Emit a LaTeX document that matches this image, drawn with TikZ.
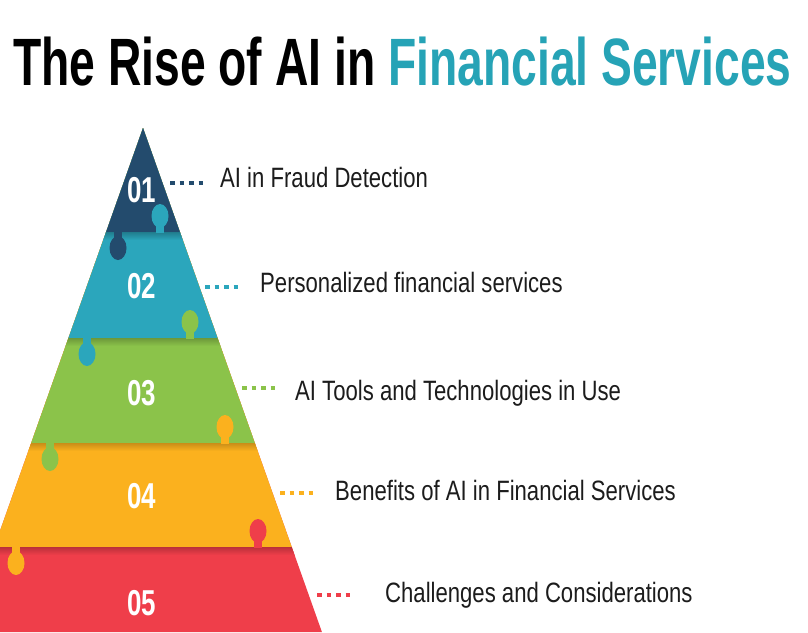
\documentclass[tikz,border=0pt]{standalone}
\usepackage{fontspec}
\setmainfont{Liberation Sans}
\newfontfamily\titlefont{Liberation Sans}[FakeStretch=0.69]
\newfontfamily\numfont{Liberation Sans}[FakeStretch=0.72]
\newfontfamily\labfont{Liberation Sans}[FakeStretch=0.79]
\definecolor{cnavy}{HTML}{234B6D}
\definecolor{cteal}{HTML}{2BA6BC}
\definecolor{cgreen}{HTML}{8BC34A}
\definecolor{corange}{HTML}{FBB11E}
\definecolor{cred}{HTML}{EF3E4A}
\definecolor{ctitle}{HTML}{26A3B6}
\definecolor{labgray}{HTML}{1C1C1C}
\newcommand\pzknob[4]{%
  \fill[#4] (#1-4,#2-#3*1) rectangle (#1+4,#2+#3*8);
  \fill[#4] (#1,#2+#3*16) ellipse[x radius=8.5, y radius=12];}
\begin{document}
\begin{tikzpicture}[x=1pt,y=-1pt,
  numtxt/.style={text=white, inner sep=0pt, anchor=base,
    font=\numfont\bfseries\fontsize{36}{36}\selectfont},
  labtxt/.style={text=labgray, inner sep=0pt, anchor=base west,
    font=\labfont\fontsize{28}{30}\selectfont},
  dotline/.style={draw=#1, line width=4.5pt, dash pattern=on 4.5pt off 5pt}]
\useasboundingbox (0,0) rectangle (808,632);
\fill[white] (0,0) rectangle (808,632);
\clip (0,0) rectangle (808,632);
% pyramid bands (stacked so no seams)
\fill[cred]    (143,128) -- (321.92,632) -- (-35.92,632) -- cycle;
\fill[corange] (143,128) -- (291.75,547) -- (-5.75,547) -- cycle;
\fill[cgreen]  (143,128) -- (254.83,443) -- (31.17,443) -- cycle;
\fill[cteal]   (143,128) -- (217.55,338) -- (68.45,338) -- cycle;
\fill[cnavy]   (143,128) -- (179.92,232) -- (106.08,232) -- cycle;
% soft shadows under each joint
\begin{scope}
  \clip (143,128) -- (321.92,632) -- (-35.92,632) -- cycle;
  \shade[top color=cteal!75!black, bottom color=cteal] (0,232) rectangle (330,240);
  \shade[top color=cgreen!78!black, bottom color=cgreen] (0,338) rectangle (330,346);
  \shade[top color=corange!80!black, bottom color=corange] (0,443) rectangle (330,451);
  \shade[top color=cred!78!black, bottom color=cred] (0,547) rectangle (330,555);
\end{scope}
% puzzle knobs
\pzknob{160}{232}{-1}{cteal}
\pzknob{118}{232}{1}{cnavy}
\pzknob{190}{338}{-1}{cgreen}
\pzknob{87}{338}{1}{cteal}
\pzknob{225}{443}{-1}{corange}
\pzknob{50}{443}{1}{cgreen}
\pzknob{258}{547}{-1}{cred}
\pzknob{16}{547}{1}{corange}
% numbers
\node[numtxt] (n1) at (142,202) {01};
\node[numtxt] (n2) at (142,298) {02};
\node[numtxt] (n3) at (142,405) {03};
\node[numtxt] (n4) at (142,508) {04};
\node[numtxt] (n5) at (142,615) {05};
% labels
\node[labtxt] (l1) at (220,187) {AI in Fraud Detection};
\node[labtxt] (l2) at (260,292) {Personalized financial services};
\node[labtxt] (l3) at (295,400) {AI Tools and Technologies in Use};
\node[labtxt] (l4) at (335,500) {Benefits of AI in Financial Services};
\node[labtxt] (l5) at (385,602) {Challenges and Considerations};
% dotted connectors
\coordinate (c1) at (170,183);
\coordinate (c2) at (205,287);
\coordinate (c3) at (242,388);
\coordinate (c4) at (280,493);
\coordinate (c5) at (317,595);
\draw[dotline=cnavy, shorten >=17pt] (c1) -- (c1 -| l1.west);
\draw[dotline=cteal, shorten >=20pt] (c2) -- (c2 -| l2.west);
\draw[dotline=cgreen, shorten >=20pt] (c3) -- (c3 -| l3.west);
\draw[dotline=corange, shorten >=22pt] (c4) -- (c4 -| l4.west);
\draw[dotline=cred, shorten >=33pt] (c5) -- (c5 -| l5.west);
% title
\node[inner sep=0pt, anchor=base west, font=\titlefont\bfseries\fontsize{67}{67}\selectfont]
  (title) at (13,85) {The Rise of AI in \textcolor{ctitle}{Financial Services}};
\end{tikzpicture}
\end{document}
